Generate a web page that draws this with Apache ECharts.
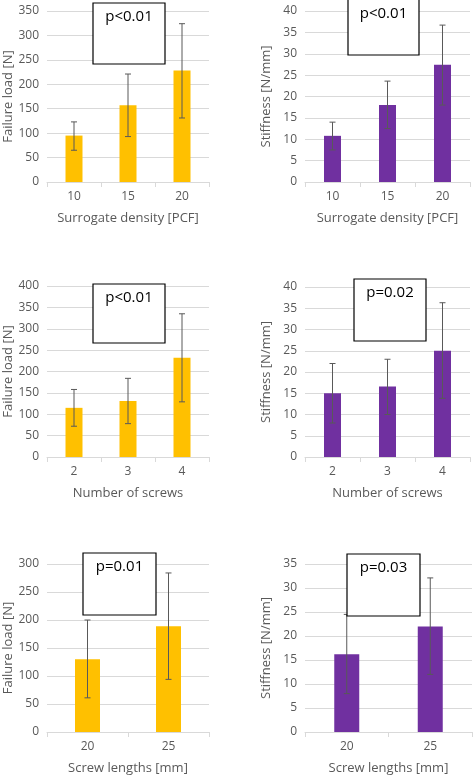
<!DOCTYPE html>
<html><head><meta charset="utf-8">
<script src="https://cdn.jsdelivr.net/npm/echarts@6/dist/echarts.min.js"></script>
<style>html,body{margin:0;padding:0;background:#fff}#c{width:474px;height:776px}</style>
</head><body><div id="c"></div>
<script>
const cat1 = ['10','15','20'];
const load1 = [95,157,228], load1Lo=[65,93,131], load1Hi=[123,221,324];
const stiff1 = [10.8,18,27.4], stiff1Lo=[7.5,12.5,18], stiff1Hi=[14,23.6,36.7];
const cat2 = ['2','3','4'];
const load2 = [115,131,232], load2Lo=[72,78,129], load2Hi=[158,184,335];
const stiff2 = [15,16.6,25], stiff2Lo=[8,10,13.8], stiff2Hi=[22,23,36.3];
const cat3 = ['20','25'];
const load3 = [130,189], load3Lo=[61,94], load3Hi=[200,284];
const stiff3 = [16.2,22], stiff3Lo=[8,12], stiff3Hi=[24.5,32.1];
const pLabels = ['p<0.01','p<0.01','p<0.01','p=0.02','p=0.01','p=0.03'];

const panels = [
 {cats:cat1,v:load1,lo:load1Lo,hi:load1Hi,max:350,int:50,col:'#FFC000',yn:'Failure load [N]',xn:'Surrogate density [PCF]',l:47,w:162,t:11,h:171,bw:17,box:[93,3,72,61]},
 {cats:cat1,v:stiff1,lo:stiff1Lo,hi:stiff1Hi,max:40,int:5,col:'#7030A0',yn:'Stiffness [N/mm]',xn:'Surrogate density [PCF]',l:305,w:165,t:11,h:171,bw:17,box:[348,-2,71,57]},
 {cats:cat2,v:load2,lo:load2Lo,hi:load2Hi,max:400,int:50,col:'#FFC000',yn:'Failure load [N]',xn:'Number of screws',l:47,w:162,t:286,h:171,bw:17,box:[93,284,72,59]},
 {cats:cat2,v:stiff2,lo:stiff2Lo,hi:stiff2Hi,max:40,int:5,col:'#7030A0',yn:'Stiffness [N/mm]',xn:'Number of screws',l:305,w:165,t:287,h:170,bw:17,box:[354,279,72,62]},
 {cats:cat3,v:load3,lo:load3Lo,hi:load3Hi,max:300,int:50,col:'#FFC000',yn:'Failure load [N]',xn:'Screw lengths [mm]',l:47,w:162,t:564,h:169,bw:25,box:[83,553,73,62]},
 {cats:cat3,v:stiff3,lo:stiff3Lo,hi:stiff3Hi,max:35,int:5,col:'#7030A0',yn:'Stiffness [N/mm]',xn:'Screw lengths [mm]',l:305,w:167,t:564,h:169,bw:25,box:[347,554,73,62]}
];
const F='"Open Sans", sans-serif', TC='#595959';
const grid=[],xAxis=[],yAxis=[],series=[],graphic=[];
panels.forEach((p,i)=>{
  grid.push({left:p.l,top:p.t,width:p.w,height:p.h});
  xAxis.push({type:'category',gridIndex:i,data:p.cats,name:p.xn,nameLocation:'middle',nameGap:30,
    nameTextStyle:{color:TC,fontSize:13,fontFamily:F},
    axisLine:{lineStyle:{color:'#d9d9d9'}},axisTick:{show:true,lineStyle:{color:'#d9d9d9'}},
    axisLabel:{color:TC,fontSize:12,fontFamily:F,margin:9}});
  yAxis.push({type:'value',gridIndex:i,min:0,max:p.max,interval:p.int,name:p.yn,nameLocation:'middle',nameGap:32,
    nameTextStyle:{color:TC,fontSize:13,fontFamily:F},
    axisLine:{show:false},axisTick:{show:false},splitLine:{lineStyle:{color:'#d9d9d9'}},
    axisLabel:{color:TC,fontSize:12,fontFamily:F,margin:8}});
  series.push({type:'bar',xAxisIndex:i,yAxisIndex:i,data:p.v,barWidth:p.bw,itemStyle:{color:p.col},z:2});
  series.push({type:'custom',xAxisIndex:i,yAxisIndex:i,z:3,
    data:p.cats.map((c,j)=>[j,p.lo[j],p.hi[j]]),
    renderItem:(params,api)=>{
      const a=api.coord([api.value(0),api.value(1)]), b=api.coord([api.value(0),api.value(2)]);
      const s={stroke:'#595959',lineWidth:1};
      return {type:'group',children:[
        {type:'line',shape:{x1:a[0],y1:a[1],x2:b[0],y2:b[1]},style:s},
        {type:'line',shape:{x1:a[0]-3,y1:a[1],x2:a[0]+3,y2:a[1]},style:s},
        {type:'line',shape:{x1:b[0]-3,y1:b[1],x2:b[0]+3,y2:b[1]},style:s}]};
    }});
  const bx=p.box;
  graphic.push({type:'rect',shape:{x:bx[0],y:bx[1],width:bx[2],height:bx[3]},style:{fill:'#fff',stroke:'#000',lineWidth:1.2},z:10});
  graphic.push({type:'text',x:bx[0]+bx[2]/2,y:bx[1]+(bx[1]<0?8:6),style:{text:pLabels[i],fill:'#000',font:'15px '+F,align:'center',verticalAlign:'top'},z:11});
});
const chart=echarts.init(document.getElementById('c'));
chart.setOption({animation:false,grid,xAxis,yAxis,series,graphic});
</script></body></html>
